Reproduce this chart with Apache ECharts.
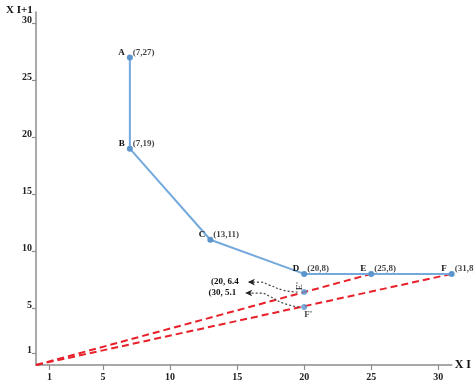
<!DOCTYPE html>
<html><head><meta charset="utf-8">
<script src="https://cdn.jsdelivr.net/npm/echarts@6/dist/echarts.min.js"></script>
<style>html,body{margin:0;padding:0;background:#fff}#c{width:474px;height:383px}</style>
</head><body><div id="c"></div>
<script>
// ---- data ----
const pointNames = ['A', 'B', 'C', 'D', 'E', 'F'];
const pointX = [7, 7, 13, 20, 25, 31];
const pointY = [27, 19, 11, 8, 8, 8];
const pointText = ['(7,27)', '(7,19)', '(13,11)', '(20,8)', '(25,8)', '(31,8)'];
const projNames = ["E'", "F'"];
const projX = [20, 20];
const projY = [6.4, 5.1];
const projText = ['(20, 6.4', '(30, 5.1'];
const rayOrigin = [0, 0];
const rayTargetX = [25, 31];
const rayTargetY = [8, 8];
const arrow1X = [19.5, 18.4, 17.4, 16.7, 15.8];
const arrow1Y = [6.4, 6.58, 7.02, 7.28, 7.28];
const arrow2X = [19.6, 18.4, 17.4, 16.7, 15.6];
const arrow2Y = [5.09, 5.44, 6.05, 6.32, 6.32];
const xTicks = [1, 5, 10, 15, 20, 25, 30];
const yTicks = [1, 5, 10, 15, 20, 25, 30];

const FONT = '"Liberation Serif", "DejaVu Serif", serif';
const AXIS = '#8c8c8c';
const BLUE_LINE = '#74a9dc';
const BLUE_PT = '#5b95cc';
const RED = '#e8202a';

const pts = pointX.map((x, i) => [x, pointY[i]]);

function arrowSeries(xs, ys, text) {
  const n = xs.length;
  return {
    type: 'line', smooth: 0.5, z: 4, silent: true,
    lineStyle: { color: '#444', width: 1.2, type: [2, 2] },
    data: xs.map((x, i) => {
      const d = { value: [x, ys[i]] };
      if (i === n - 1) {
        d.symbol = 'arrow'; d.symbolSize = [5, 7]; d.symbolRotate = 90;
        d.itemStyle = { color: '#222' };
        d.label = { show: true, position: 'left', distance: 9, formatter: text,
          fontFamily: FONT, fontWeight: 'bold', fontSize: 9, color: '#111' };
      } else {
        d.symbol = 'none';
      }
      return d;
    })
  };
}

const option = {
  animation: false,
  title: { text: 'X I+1', left: 1, top: 0,
    textStyle: { fontFamily: FONT, fontWeight: 'bold', fontSize: 11, color: '#111' } },
  grid: { left: 36, right: 18, top: 12, bottom: 18, containLabel: false },
  xAxis: {
    type: 'value', min: 0, max: 31,
    name: 'X I', nameLocation: 'end', nameGap: 3,
    nameTextStyle: { fontFamily: FONT, fontWeight: 'bold', fontSize: 12, color: '#111', padding: [0, 0, 4, 0] },
    axisLine: { lineStyle: { color: AXIS, width: 1.5 } },
    axisTick: { show: true, length: 5, lineStyle: { color: AXIS, width: 1.2 }, customValues: xTicks },
    axisLabel: { customValues: xTicks, margin: 7, fontFamily: FONT, fontWeight: 'bold', fontSize: 10, color: '#222' },
    splitLine: { show: false }
  },
  yAxis: {
    type: 'value', min: 0, max: 31,
    axisLine: { show: true, lineStyle: { color: AXIS, width: 1.5 } },
    axisTick: { show: true, length: 4, lineStyle: { color: AXIS, width: 1.2 }, customValues: yTicks },
    axisLabel: { customValues: yTicks, margin: 4, verticalAlign: 'bottom', padding: [0, 0, -2, 0], fontFamily: FONT, fontWeight: 'bold', fontSize: 10, color: '#222' },
    splitLine: { show: false }
  },
  series: [
    // red dashed rays
    ...rayTargetX.map((tx, i) => ({
      type: 'line', z: 2, silent: true, symbol: 'none',
      lineStyle: { color: RED, width: 2, type: [7, 4] },
      data: [rayOrigin, [tx, rayTargetY[i]]]
    })),
    // main blue polyline with letter labels
    {
      type: 'line', z: 5, silent: true, data: pts,
      symbol: 'circle', symbolSize: 6, showAllSymbol: true,
      lineStyle: { color: BLUE_LINE, width: 2 },
      itemStyle: { color: BLUE_PT },
      label: { show: true, position: 'left', distance: 2, offset: [0, -5],
        formatter: p => pointNames[p.dataIndex],
        fontFamily: FONT, fontWeight: 'bold', fontSize: 9, color: '#111' }
    },
    // coordinate labels
    {
      type: 'scatter', z: 6, silent: true, data: pts, symbolSize: 6,
      itemStyle: { color: 'rgba(0,0,0,0)' },
      label: { show: true, position: 'right', distance: 0, offset: [0, -5],
        formatter: p => pointText[p.dataIndex],
        fontFamily: FONT, fontWeight: 'bold', fontSize: 9, color: '#111' }
    },
    // projected points E', F'
    {
      type: 'scatter', z: 6, silent: true, symbolSize: 6,
      itemStyle: { color: BLUE_PT },
      data: projX.map((x, i) => ({
        value: [x, projY[i]],
        label: i === 0
          ? { show: true, position: 'top', distance: 3, rotate: 90, formatter: projNames[i],
              fontFamily: FONT, fontWeight: 'bold', fontSize: 9, color: '#111' }
          : { show: true, position: 'bottom', distance: 0, offset: [4, 0], formatter: projNames[i],
              fontFamily: FONT, fontWeight: 'bold', fontSize: 9, color: '#111' }
      }))
    },
    arrowSeries(arrow1X, arrow1Y, projText[0]),
    arrowSeries(arrow2X, arrow2Y, projText[1])
  ]
};

const chart = echarts.init(document.getElementById('c'), null, { renderer: 'canvas' });
chart.setOption(option);
</script>
</body></html>
